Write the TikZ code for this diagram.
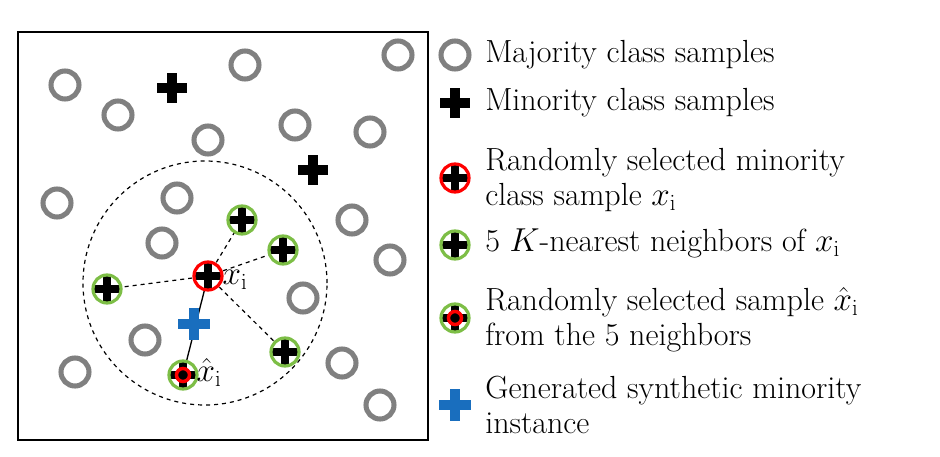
\documentclass[tikz,border=0pt]{standalone}
\usetikzlibrary{calc}
\definecolor{ngreen}{RGB}{125,190,70}
\definecolor{sblue}{RGB}{25,110,190}
\definecolor{rgray}{RGB}{128,128,128}
\begin{document}
\begin{tikzpicture}[x=0.75pt,y=-0.75pt,
  ring/.style={circle,draw=rgray,line width=3.8pt,minimum size=21pt,inner sep=0pt},
  lbl/.style={anchor=west,align=left,font=\fontsize{24}{26.5}\selectfont,inner sep=0pt}]
\newcommand\plusat[3]{\fill[#3] ($(#1)+(-#2,-0.34*#2)$) rectangle ($(#1)+(#2,0.34*#2)$);
  \fill[#3] ($(#1)+(-0.34*#2,-#2)$) rectangle ($(#1)+(0.34*#2,#2)$);}
\useasboundingbox (0,0) rectangle (940,457);
\draw[line width=2pt] (18,32) rectangle (428,440);
% majority rings
\foreach \p [count=\i] in {(65,85),(118,115),(245,65),(208,140),(295,125),(370,132),(398,55),(57,203),(177,198),(162,243),(352,220),(390,260),(303,298),(145,340),(342,363),(75,372),(380,405)}
  \node[ring] (r\i) at \p {};
% minority plain
\coordinate (p1) at (172,88); \coordinate (p2) at (313,170);
\plusat{p1}{15}{black} \plusat{p2}{15}{black}
% neighbourhood
\node[circle,draw,dashed,line width=0.9pt,minimum size=183pt,inner sep=0pt] (hood) at (205,283) {};
\coordinate (xi) at (208,276);
\coordinate (n1) at (242,220); \coordinate (n2) at (283,250);
\coordinate (n3) at (107,289); \coordinate (n4) at (285,352);
\coordinate (xh) at (183,375); \coordinate (syn) at (194,324);
\draw[dashed,line width=0.9pt] (xi) -- (n1) (xi) -- (n2) (xi) -- (n3) (xi) -- (n4);
\draw[line width=1pt] (xi) -- (xh);
\foreach \c in {n1,n2,n3,n4,xh}{\fill[white] (\c) circle (14);\plusat{\c}{13}{black}\draw[ngreen,line width=2.4pt] (\c) circle (14);}
\fill[white] (xi) circle (14);\plusat{xi}{13}{black}\draw[red,line width=2.4pt] (xi) circle (14);
\draw[red,line width=2.6pt,fill=black] (xh) circle (6.5);
\plusat{syn}{16}{sblue}
\node[anchor=west,font=\fontsize{24}{26}\selectfont,inner sep=1pt] (lxi) at (221,280) {$x_{\mathrm{i}}$};
\node[anchor=west,font=\fontsize{24}{26}\selectfont,inner sep=1pt] (lxh) at (195,372) {$\hat{x}_{\mathrm{i}}$};
% legend
\node[ring] (L1) at (455,55) {};
\coordinate (L2) at (455,103); \plusat{L2}{15}{black}
\coordinate (L3) at (455,178); \fill[white] (L3) circle (14);\plusat{L3}{13}{black}\draw[red,line width=2.4pt] (L3) circle (14);
\coordinate (L4) at (455,245); \plusat{L4}{13}{black}\draw[ngreen,line width=2.4pt] (L4) circle (14);
\coordinate (L5) at (455,318); \plusat{L5}{13}{black}\draw[ngreen,line width=2.4pt] (L5) circle (14);\draw[red,line width=2.6pt,fill=black] (L5) circle (6.5);
\coordinate (L6) at (455,405); \plusat{L6}{16}{sblue}
\node[lbl] (t1) at (485,55) {Majority class samples};
\node[lbl] (t2) at (485,103) {Minority class samples};
\node[lbl] (t3) at (485,180) {Randomly selected minority\\class sample $x_{\mathrm{i}}$};
\node[lbl] (t4) at (485,243) {5 $K$-nearest neighbors of $x_{\mathrm{i}}$};
\node[lbl] (t5) at (485,320) {Randomly selected sample $\hat{x}_{\mathrm{i}}$\\from the 5 neighbors};
\node[lbl] (t6) at (485,405) {Generated synthetic minority\\instance};
\end{tikzpicture}
\end{document}
